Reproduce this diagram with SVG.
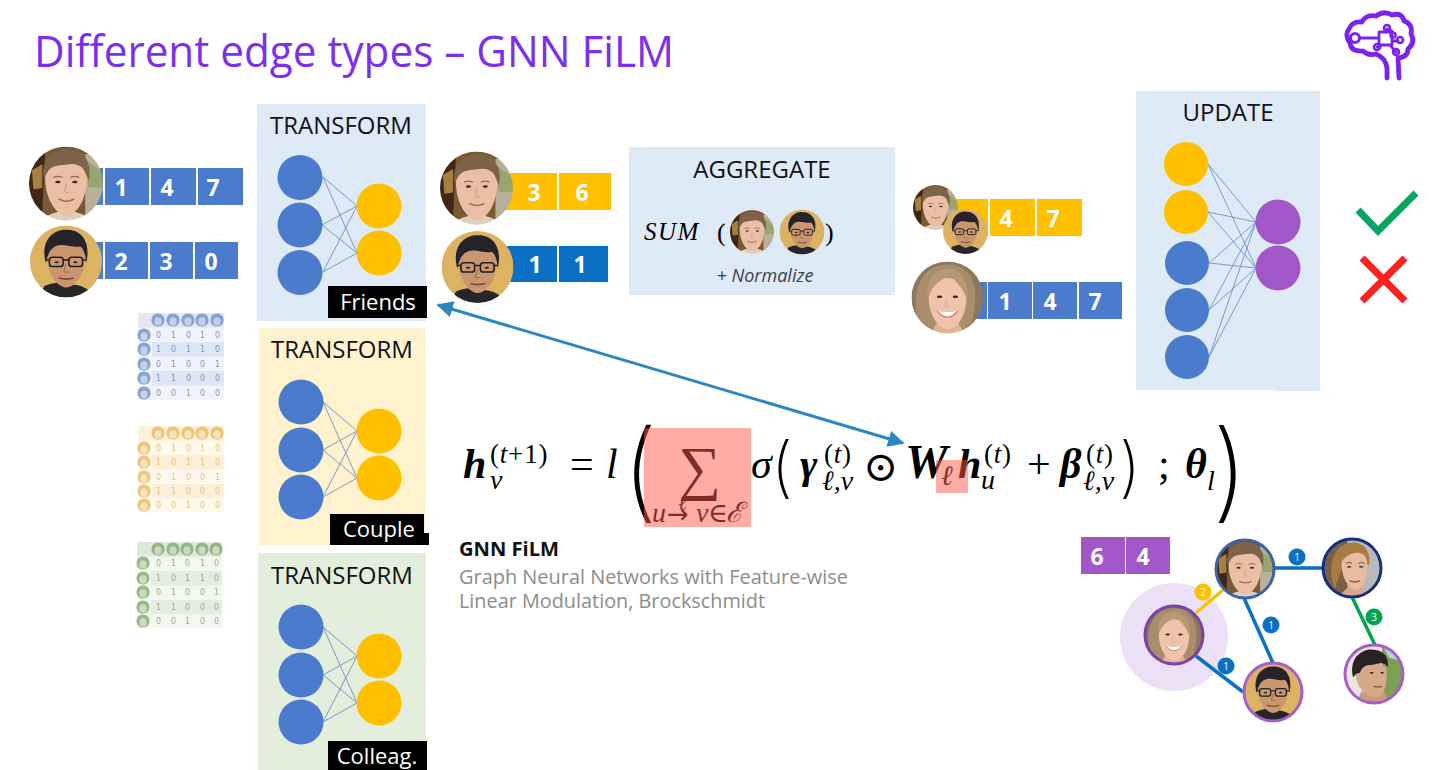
<svg xmlns="http://www.w3.org/2000/svg" width="1440" height="770" viewBox="0 0 1440 770">
<style>
text{font-family:"Open Sans","Noto Sans","Liberation Sans",sans-serif}
.h{font-size:24px;fill:#111;text-anchor:middle}
.num{font-size:23px;font-weight:700;fill:#fff;text-anchor:middle}
.lab{font-size:22px;fill:#fff;text-anchor:middle}
.blue{fill:#4a7bcd}.dblue{fill:#0a70c4}.yel{fill:#ffc000}.pur{fill:#a257c9}
.pale{fill:#dfeaf7}
.net line{stroke:#6f8fc9;stroke-width:.9}
.m text,text.m{font-family:"Liberation Serif","DejaVu Serif",serif;fill:#000}
.m .b{font-weight:700;font-style:italic;font-size:42px}
.m .i{font-style:italic;font-size:42px}
.m .s{font-style:italic;font-size:28px}
.m .r{font-size:27px;letter-spacing:.8px}
.m .r42{font-size:42px}
.m .d{font-family:Inter,"Open Sans",sans-serif;font-weight:200}
.m .ar{font-family:"DejaVu Sans",sans-serif;font-size:26px}
.tb text{font-size:8px;font-family:"DejaVu Sans",sans-serif}
.e{fill:none;stroke-width:3.5}
.bd{font-size:10px;fill:#fff;text-anchor:middle}
</style>
<defs>
<clipPath id="cc"><circle r="50"/></clipPath>
<filter id="soft" x="-5%" y="-5%" width="110%" height="110%"><feGaussianBlur stdDeviation=".9"/></filter>
<filter id="tiny" x="-2%" y="-2%" width="104%" height="104%"><feGaussianBlur stdDeviation=".35"/></filter>
<g id="man1"><g clip-path="url(#cc)"><g filter="url(#soft)">
<rect x="-50" y="-50" width="100" height="100" fill="#7a5a32"/>
<path d="M-50-50H-28L-32 40H-50Z" fill="#3f2814"/>
<path d="M-46-18L-32-26V6L-44 8Z" fill="#a6803f"/>
<path d="M26-40H50V50H26Z" fill="#b9b09a"/>
<path d="M28-30L50-15V5L30 5Z" fill="#98a570"/>
<path d="M-36 50Q-16 36 0 38Q18 36 36 50Z" fill="#dcd0c0"/>
<path d="M-28-12C-30 20-12 44 0 44C14 44 30 20 28-12C26-34-26-34-28-12Z" fill="#ebbfa6"/>
<path d="M-30-6C-35-34-16-46 2-46C22-46 36-32 31-4L27-12C24-24 14-28 4-26C-8-24-20-26-26-14Z" fill="#7d6449"/>
<ellipse cx="-11" cy="-2" rx="3.6" ry="1.7" fill="#3c2c22"/><ellipse cx="12" cy="-2" rx="3.6" ry="1.7" fill="#3c2c22"/>
<path d="M-17-8Q-11-11-5-8M6-8Q12-11 18-8" stroke="#8a6a50" stroke-width="1.6" fill="none"/>
<path d="M1 0L-2 11Q1 14 4 11" stroke="#d0a088" stroke-width="1.5" fill="none"/>
<path d="M-10 21Q1 27 11 21" stroke="#b0685a" stroke-width="2.2" fill="none"/>
</g></g></g>
<g id="man2"><g clip-path="url(#cc)"><g filter="url(#soft)">
<rect x="-50" y="-50" width="100" height="100" fill="#dcb264"/>
<path d="M-38 50L-30 34Q-14 28-8 30L8 32Q22 32 34 42L36 50Z" fill="#26262a"/>
<path d="M-26-10C-28 18-10 36 0 36C12 36 28 18 26-10C24-30-24-30-26-10Z" fill="#c9966f"/>
<path d="M-28 2C-37-30-16-46 2-44C22-44 35-26 28 2C27-8 26-16 20-21C8-18-6-28-18-19C-24-14-26-6-28 2Z" fill="#25242a"/>
<rect x="-23" y="-6" width="19" height="13" rx="4" fill="none" stroke="#222" stroke-width="2.2"/>
<rect x="4" y="-6" width="19" height="13" rx="4" fill="none" stroke="#222" stroke-width="2.2"/>
<path d="M-4-2H4M-23-2H-28M23-2H28" stroke="#222" stroke-width="2"/>
<ellipse cx="-13" cy="1" rx="3" ry="1.5" fill="#2a2020"/><ellipse cx="13" cy="1" rx="3" ry="1.5" fill="#2a2020"/>
<path d="M0 3L-3 14Q0 16 4 14" stroke="#a06a4c" stroke-width="1.4" fill="none"/>
<path d="M-10 23Q0 26 11 23" stroke="#7d4838" stroke-width="2.2" fill="none"/>
</g></g></g>
<g id="wom1"><g clip-path="url(#cc)"><g filter="url(#soft)">
<rect x="-50" y="-50" width="100" height="100" fill="#8c7760"/>
<path d="M-38 44C-52 0-42-46 0-46C40-46 44 -4 34 34L22 44Z" fill="#a98e6c"/>
<path d="M-24 50L-14 34H14L24 50Z" fill="#e3b298"/>
<path d="M-26-6C-28 24-12 44 0 44C14 44 28 24 26-6C24-34-24-34-26-6Z" fill="#efc4ab"/>
<path d="M-27 6C-26-12-14-24 4-30C12-22 24-12 27 6C31-22 18-40 0-40C-18-40-32-22-27 6Z" fill="#b79a74"/>
<ellipse cx="-11" cy="-1" rx="3.8" ry="1.8" fill="#33261e"/><ellipse cx="11" cy="-1" rx="3.8" ry="1.8" fill="#33261e"/>
<path d="M-1 3L-3 12Q0 14 3 12" stroke="#d8a68e" stroke-width="1.3" fill="none"/>
<path d="M-14 19Q0 36 14 19Q0 22-14 19Z" fill="#fff"/><path d="M-14 19Q0 36 14 19" fill="none" stroke="#c06a5e" stroke-width="1.4"/>
</g></g></g>
<g id="wom2"><g clip-path="url(#cc)"><g filter="url(#soft)">
<rect x="-50" y="-50" width="100" height="100" fill="#b9b9b7"/>
<path d="M-50-50H-8V50H-50Z" fill="#7a5f46"/>
<path d="M-24 50L-8 34H20L28 50Z" fill="#d9a98e"/>
<path d="M-30 36C-44-6-32-42 2-44C22-44 32-28 30-6L22-6L-12-14Z" fill="#a97b45"/>
<path d="M-18-8C-18 22-2 38 6 38C16 38 28 20 26-10C24-30 4-28-6-22C-12-18-18-14-18-8Z" fill="#e9bca2"/>
<ellipse cx="-5" cy="-2" rx="4" ry="2" fill="#3f5f6c"/><ellipse cx="16" cy="-2" rx="4" ry="2" fill="#3f5f6c"/>
<path d="M-11-8Q-5-12 0-8M11-8Q17-11 22-8" stroke="#6b4a2c" stroke-width="1.6" fill="none"/>
<path d="M-4 22Q5 26 14 22" stroke="#b3574e" stroke-width="2.6" fill="none"/>
</g></g></g>
<g id="man3"><g clip-path="url(#cc)"><g filter="url(#soft)">
<rect x="-50" y="-50" width="100" height="100" fill="#e7e5e0"/>
<path d="M14-50H50V50H14Z" fill="#7d9f52"/>
<path d="M14-50H50V-22L26-28Z" fill="#bccee0"/>
<path d="M-30 50L-22 30H18L26 50Z" fill="#c99b7c"/>
<path d="M-32-4C-32 26-10 40 4 40C16 40 22 24 22-6C20-24-28-24-32-4Z" fill="#d6a98a"/>
<path d="M-36 6C-44-26-22-44 -2-42C12-42 26-34 24-12C18-22 8-18-2-16C-16-16-22-10-24-2C-28-2-32 0-36 6Z" fill="#2a2422"/>
<ellipse cx="-4" cy="-2" rx="3.4" ry="1.6" fill="#2a2020"/><ellipse cx="14" cy="-2" rx="2.8" ry="1.5" fill="#2a2020"/>
<path d="M-1 21Q6 24 14 21" stroke="#8f5a4a" stroke-width="2.2" fill="none"/>
</g></g></g>
<g id="th"><circle r="6.6" fill="currentColor" opacity=".8"/><ellipse cy="1.4" rx="3.6" ry="4.2" fill="#fff" opacity=".5"/></g>
<marker id="ah" viewBox="0 0 10 10" refX="9" refY="5" markerWidth="5.5" markerHeight="5.5" orient="auto-start-reverse"><path d="M0 0L10 5L0 10Z" fill="#2e86c1"/></marker>
</defs>
<rect width="1440" height="770" fill="#fff"/>

<text id="title" x="34" y="67" font-size="44" fill="#7b2ff2" textLength="640" lengthAdjust="spacingAndGlyphs">Different edge types – GNN FiLM</text>

<g id="logo" fill="none" stroke="#7b22f0" stroke-width="4.8" stroke-linecap="round" stroke-linejoin="round">
<path d="M1387 78V68Q1386 58 1376 54Q1368 56 1363 51Q1351 52 1350 43Q1344 35 1349 29Q1352 21 1362 22Q1366 14 1376 16Q1384 10 1392 15Q1402 12 1404 21Q1413 24 1411 34Q1416 42 1408 49Q1408 57 1398 58L1399 78"/>
<path d="M1360 38H1379M1379 32H1392V45H1379ZM1392 31L1387 29M1392 41L1398 41M1381 46L1377 47M1390 45L1396 52" stroke-width="2.8"/>
<circle cx="1355" cy="38" r="4.5" stroke-width="3"/><circle cx="1387" cy="28" r="3" stroke-width="2.6"/><circle cx="1393" cy="35" r="2.6" stroke-width="2.4"/><circle cx="1400" cy="40" r="3" stroke-width="2.6"/><circle cx="1377" cy="47" r="3" stroke-width="2.6"/><circle cx="1396" cy="52" r="3" stroke-width="2.6"/>
</g>

<g id="input-friend1">
<rect class="blue" x="96" y="168" width="7" height="37"/><rect class="blue" x="105" y="168" width="44" height="37"/><rect class="blue" x="151" y="168" width="45" height="37"/><rect class="blue" x="198" y="168" width="45" height="37"/>
<text class="num" x="121" y="196">1</text><text class="num" x="167" y="196">4</text><text class="num" x="213" y="196">7</text>
<use href="#man1" transform="translate(66 183.5) scale(.74)"/>
</g>
<g id="input-friend2">
<rect class="blue" x="96" y="242" width="7" height="37"/><rect class="blue" x="105" y="242" width="43" height="37"/><rect class="blue" x="150" y="242" width="43" height="37"/><rect class="blue" x="195" y="242" width="43" height="37"/>
<text class="num" x="121" y="270">2</text><text class="num" x="166" y="270">3</text><text class="num" x="211" y="270">0</text>
<use href="#man2" transform="translate(66 261.5) scale(.72)"/>
</g>

<g id="transform-friends">
<rect class="pale" x="257" y="104" width="169" height="217"/>
<text class="h" x="341" y="134">TRANSFORM</text>
<g class="net"><line x1="323" y1="177" x2="357" y2="206"/><line x1="323" y1="177" x2="357" y2="253"/><line x1="322" y1="225" x2="357" y2="206"/><line x1="322" y1="225" x2="357" y2="253"/><line x1="323" y1="272" x2="357" y2="206"/><line x1="323" y1="272" x2="357" y2="253"/></g>
<circle class="blue" cx="300" cy="177.5" r="22.5"/><circle class="blue" cx="300" cy="225" r="22.5"/><circle class="blue" cx="300" cy="272.5" r="22.5"/>
<circle class="yel" cx="379" cy="206" r="22.5"/><circle class="yel" cx="379" cy="253" r="22.5"/>
<rect x="328" y="286" width="99" height="32"/><text class="lab" x="378" y="310">Friends</text>
</g>
<g id="transform-couple">
<rect x="259" y="328" width="167" height="217" fill="#fff2cf"/>
<text class="h" x="342" y="358">TRANSFORM</text>
<g class="net"><line x1="323" y1="402" x2="357" y2="431"/><line x1="323" y1="402" x2="357" y2="478"/><line x1="323" y1="450" x2="357" y2="431"/><line x1="323" y1="450" x2="357" y2="478"/><line x1="323" y1="497" x2="357" y2="431"/><line x1="323" y1="497" x2="357" y2="478"/></g>
<circle class="blue" cx="301" cy="402" r="22.5"/><circle class="blue" cx="301" cy="450" r="22.5"/><circle class="blue" cx="301" cy="497" r="22.5"/>
<circle class="yel" cx="379" cy="431" r="22.5"/><circle class="yel" cx="379" cy="478" r="22.5"/>
<rect x="330" y="514" width="94" height="31"/><rect x="424" y="533" width="5" height="12"/><text class="lab" x="379" y="537">Couple</text>
</g>
<g id="transform-colleagues">
<rect x="258" y="553" width="168" height="217" fill="#e3efdc"/>
<text class="h" x="342" y="584">TRANSFORM</text>
<g class="net"><line x1="323" y1="627" x2="357" y2="656"/><line x1="323" y1="627" x2="357" y2="703"/><line x1="323" y1="675" x2="357" y2="656"/><line x1="323" y1="675" x2="357" y2="703"/><line x1="323" y1="722" x2="357" y2="656"/><line x1="323" y1="722" x2="357" y2="703"/></g>
<circle class="blue" cx="301" cy="627" r="22.5"/><circle class="blue" cx="301" cy="675" r="22.5"/><circle class="blue" cx="301" cy="722" r="22.5"/>
<circle class="yel" cx="379" cy="656" r="22.5"/><circle class="yel" cx="379" cy="703" r="22.5"/>
<rect x="328" y="741" width="99" height="29"/><text class="lab" x="377" y="764">Colleag.</text>
</g>

<g id="matrix-blue" class="tb" color="#6f8fc6" fill="#7b98ca" filter="url(#tiny)">
<rect x="138" y="313" width="86" height="87" fill="#f0f3fa"/><rect x="138" y="313" width="86" height="14.5" fill="#e2e8f3"/><rect x="152" y="342" width="72" height="14.5" fill="#dfe6f3"/><rect x="152" y="371" width="72" height="14.5" fill="#dfe6f3"/>
<use href="#th" x="158" y="320"/><use href="#th" x="173" y="320"/><use href="#th" x="188" y="320"/><use href="#th" x="202" y="320"/><use href="#th" x="217" y="320"/>
<use href="#th" x="144" y="335"/><use href="#th" x="144" y="349"/><use href="#th" x="144" y="364"/><use href="#th" x="144" y="378"/><use href="#th" x="144" y="393"/>
<text x="156 171 186 200 215" y="338">01010</text><text x="156 171 186 200 215" y="352">10110</text><text x="156 171 186 200 215" y="367">01001</text><text x="156 171 186 200 215" y="381">11000</text><text x="156 171 186 200 215" y="396">00100</text>
</g>
<g id="matrix-yellow" class="tb" color="#eab95a" fill="#e9c171" filter="url(#tiny)">
<rect x="138" y="426" width="86" height="86" fill="#fff8ec"/><rect x="138" y="426" width="86" height="14.5" fill="#fdf0da"/><rect x="152" y="455" width="72" height="14.5" fill="#fcf0dc"/><rect x="152" y="484" width="72" height="14.5" fill="#fcf0dc"/>
<use href="#th" x="158" y="433"/><use href="#th" x="173" y="433"/><use href="#th" x="188" y="433"/><use href="#th" x="202" y="433"/><use href="#th" x="217" y="433"/>
<use href="#th" x="144" y="448"/><use href="#th" x="144" y="462"/><use href="#th" x="144" y="477"/><use href="#th" x="144" y="491"/><use href="#th" x="144" y="505"/>
<text x="156 171 186 200 215" y="451">01010</text><text x="156 171 186 200 215" y="465">10110</text><text x="156 171 186 200 215" y="480">01001</text><text x="156 171 186 200 215" y="494">11000</text><text x="156 171 186 200 215" y="508">00100</text>
</g>
<g id="matrix-green" class="tb" color="#82a96e" fill="#95b285" filter="url(#tiny)">
<rect x="137" y="542" width="85" height="86" fill="#f3f7f0"/><rect x="137" y="542" width="85" height="14.5" fill="#dfe9da"/><rect x="151" y="571" width="71" height="14.5" fill="#e5ede0"/><rect x="151" y="600" width="71" height="14.5" fill="#e5ede0"/>
<use href="#th" x="158" y="549"/><use href="#th" x="173" y="549"/><use href="#th" x="187" y="549"/><use href="#th" x="202" y="549"/><use href="#th" x="216" y="549"/>
<use href="#th" x="143" y="563"/><use href="#th" x="143" y="578"/><use href="#th" x="143" y="592"/><use href="#th" x="143" y="607"/><use href="#th" x="143" y="621"/>
<text x="156 171 185 200 214" y="566">01010</text><text x="156 171 185 200 214" y="581">10110</text><text x="156 171 185 200 214" y="595">01001</text><text x="156 171 185 200 214" y="610">11000</text><text x="156 171 185 200 214" y="624">00100</text>
</g>

<g id="message-friend1">
<rect class="yel" x="505" y="173" width="52" height="37"/><rect class="yel" x="559" y="173" width="52" height="37"/>
<text class="num" x="534" y="201">3</text><text class="num" x="582" y="201">6</text>
<use href="#man1" transform="translate(476.5 188) scale(.73)"/>
</g>
<g id="message-friend2">
<rect class="dblue" x="505" y="246" width="52" height="36"/><rect class="dblue" x="559" y="246" width="49" height="36"/>
<text class="num" x="535" y="273">1</text><text class="num" x="580" y="273">1</text>
<use href="#man2" transform="translate(477.5 267) scale(.72)"/>
</g>

<g id="aggregate">
<rect class="pale" x="629" y="147" width="266" height="148"/>
<text class="h" x="762" y="178">AGGREGATE</text>
<text class="m" x="644" y="240" font-size="25" font-style="italic" letter-spacing="1.5">SUM</text>
<text class="m" x="717" y="241" font-size="26">(</text><text class="m" x="825" y="241" font-size="26">)</text>
<use href="#man1" transform="translate(752 232) scale(.44)"/><use href="#man2" transform="translate(802 232) scale(.45)"/>
<text x="765" y="282" font-size="18" font-style="italic" fill="#3c414c" text-anchor="middle">+ Normalize</text>
</g>

<g id="message-self">
<rect class="yel" x="955" y="199" width="33" height="37"/><rect class="yel" x="990" y="199" width="45" height="37"/><rect class="yel" x="1037" y="199" width="45" height="37"/>
<text class="num" x="1006" y="227">4</text><text class="num" x="1053" y="227">7</text>
<use href="#man1" transform="translate(935.5 207.5) scale(.45)"/><use href="#man2" transform="translate(965.5 231.5) scale(.45)"/>
</g>
<g id="embedding-self">
<rect class="blue" x="975" y="282" width="12" height="37"/><rect class="blue" x="988" y="282" width="44" height="37"/><rect class="blue" x="1033" y="282" width="44" height="37"/><rect class="blue" x="1079" y="282" width="43" height="37"/>
<text class="num" x="1005" y="310">1</text><text class="num" x="1050" y="310">4</text><text class="num" x="1095" y="310">7</text>
<use href="#wom1" transform="translate(947.5 297.5) scale(.72)"/>
</g>

<g id="update">
<rect class="pale" x="1136" y="91" width="184" height="299"/><rect class="pale" x="1274" y="390" width="46" height="1"/>
<text class="h" x="1228" y="121">UPDATE</text>
<g class="net"><line x1="1208" y1="164" x2="1256" y2="222"/><line x1="1208" y1="164" x2="1256" y2="268"/><line x1="1208" y1="212" x2="1256" y2="222"/><line x1="1208" y1="212" x2="1256" y2="268"/><line x1="1209" y1="263" x2="1256" y2="222"/><line x1="1209" y1="263" x2="1256" y2="268"/><line x1="1209" y1="310" x2="1256" y2="222"/><line x1="1209" y1="310" x2="1256" y2="268"/><line x1="1209" y1="357" x2="1256" y2="222"/><line x1="1209" y1="357" x2="1256" y2="268"/></g>
<circle class="yel" cx="1186" cy="164" r="22"/><circle class="yel" cx="1186" cy="212" r="22"/>
<circle class="blue" cx="1187" cy="263" r="22"/><circle class="blue" cx="1187" cy="310" r="22"/><circle class="blue" cx="1187" cy="357" r="22"/>
<circle class="pur" cx="1278" cy="222" r="22.5"/><circle class="pur" cx="1278" cy="268" r="22.5"/>
</g>

<g id="check"><path d="M1358 210L1378 231L1416 193" fill="none" stroke="#0aa563" stroke-width="7"/></g>
<g id="cross"><path d="M1362 258L1405 301M1405 258L1362 301" fill="none" stroke="#ff1f1f" stroke-width="7"/></g>

<g id="formula" class="m">
<text class="b" x="463" y="478">h</text>
<text class="r" x="490" y="463">(<tspan font-style="italic">t</tspan>+1)</text>
<text class="s" x="490" y="489">v</text>
<text class="r42" x="570" y="478">=</text>
<text class="i" x="606" y="478">l</text>
<text class="d" x="622" y="508" font-size="108">(</text>
<text x="678" y="488" font-size="60">∑</text>
<text class="s" x="678" y="510" style="font-size:22px">ℓ</text>
<text class="s" x="652" y="522">u</text>
<text class="ar" x="667" y="523">→</text>
<text class="s" x="696" y="522">v</text>
<text class="r" x="708" y="522">∈</text>
<text class="s" x="726" y="522">ℰ</text>
<text class="i" x="751" y="478">σ</text>
<text class="d" x="771" y="490" font-size="66">(</text>
<text class="b" x="800" y="478">γ</text>
<text class="r" x="824" y="463">(<tspan font-style="italic">t</tspan>)</text>
<text class="s" x="822" y="490">ℓ,v</text>
<text class="r42" x="863" y="481">⊙</text>
<text class="b" x="905" y="478" style="font-size:48px">W</text>
<text class="s" x="941" y="485">ℓ</text>
<text class="b" x="958" y="478">h</text>
<text class="r" x="984" y="463">(<tspan font-style="italic">t</tspan>)</text>
<text class="s" x="981" y="489">u</text>
<text class="r42" x="1027" y="478">+</text>
<text class="b" x="1060" y="478">β</text>
<text class="r" x="1086" y="463">(<tspan font-style="italic">t</tspan>)</text>
<text class="s" x="1083" y="490">ℓ,v</text>
<text class="d" x="1119" y="490" font-size="66">)</text>
<text class="r42" x="1158" y="478">;</text>
<text class="b" x="1185" y="478">θ</text>
<text class="s" x="1207" y="490">l</text>
<text class="d" x="1212" y="508" font-size="108">)</text>
<rect x="644" y="428" width="107" height="99" fill="#ff5a4a" opacity=".5"/>
<rect x="936" y="460" width="32" height="33" fill="#ff5a4a" opacity=".5"/>
</g>

<circle id="graph-halo" cx="1174" cy="637" r="54" fill="#ebe0f6"/>
<g id="connectors">
<line x1="438" y1="305" x2="903" y2="443" stroke="#2e86c1" stroke-width="3" marker-start="url(#ah)" marker-end="url(#ah)"/>
<g id="graph-edges">
<line class="e" x1="1196" y1="613" x2="1223" y2="590" stroke="#ffc000"/>
<line class="e" x1="1244" y1="598" x2="1273" y2="663" stroke="#0a70c4"/>
<line class="e" x1="1274" y1="568" x2="1322" y2="568" stroke="#0a70c4"/>
<line class="e" x1="1352" y1="597" x2="1375" y2="645" stroke="#00a651"/>
<line class="e" x1="1196" y1="656" x2="1243" y2="692" stroke="#0a70c4"/>
</g>
</g>

<g id="citation">
<text x="459" y="556" font-size="20" font-weight="700" fill="#111" textLength="100" lengthAdjust="spacingAndGlyphs">GNN FiLM</text>
<text x="459" y="584" font-size="20" fill="#8c8c8c" textLength="389" lengthAdjust="spacingAndGlyphs">Graph Neural Networks with Feature-wise</text>
<text x="459" y="608" font-size="20" fill="#8c8c8c" textLength="306" lengthAdjust="spacingAndGlyphs">Linear Modulation, Brockschmidt</text>
</g>

<g id="result-embedding">
<rect class="pur" x="1081" y="537" width="44" height="37"/><rect class="pur" x="1126" y="537" width="44" height="37"/>
<text class="num" x="1097" y="565">6</text><text class="num" x="1143" y="565">4</text>
</g>

<g id="graph-target"><use href="#wom1" transform="translate(1174 635) scale(.58)"/><circle cx="1174" cy="635" r="29" fill="none" stroke="#7a42a8" stroke-width="3"/></g>
<g id="graph-man1"><use href="#man1" transform="translate(1245 569) scale(.58)"/><circle cx="1245" cy="569" r="29" fill="none" stroke="#3d62a8" stroke-width="3"/></g>
<g id="graph-wom2"><use href="#wom2" transform="translate(1352 568) scale(.58)"/><circle cx="1352" cy="568" r="29" fill="none" stroke="#14307f" stroke-width="3"/></g>
<g id="graph-man2"><use href="#man2" transform="translate(1273 692) scale(.58)"/><circle cx="1273" cy="692" r="29" fill="none" stroke="#a55fc8" stroke-width="3"/></g>
<g id="graph-man3"><use href="#man3" transform="translate(1374 674) scale(.58)"/><circle cx="1374" cy="674" r="29" fill="none" stroke="#a55fc8" stroke-width="3"/></g>
<g id="badges">
<circle cx="1203" cy="592" r="8.5" fill="#ffc000"/><text class="bd" x="1203" y="596">2</text>
<circle cx="1297" cy="557" r="8.5" fill="#0a70c4"/><text class="bd" x="1297" y="561">1</text>
<circle cx="1271" cy="625" r="8.5" fill="#0a70c4"/><text class="bd" x="1271" y="629">1</text>
<circle cx="1374" cy="617" r="8.5" fill="#00a651"/><text class="bd" x="1374" y="621">3</text>
<circle cx="1226" cy="666" r="8.5" fill="#0a70c4"/><text class="bd" x="1226" y="670">1</text>
</g>
</svg>
